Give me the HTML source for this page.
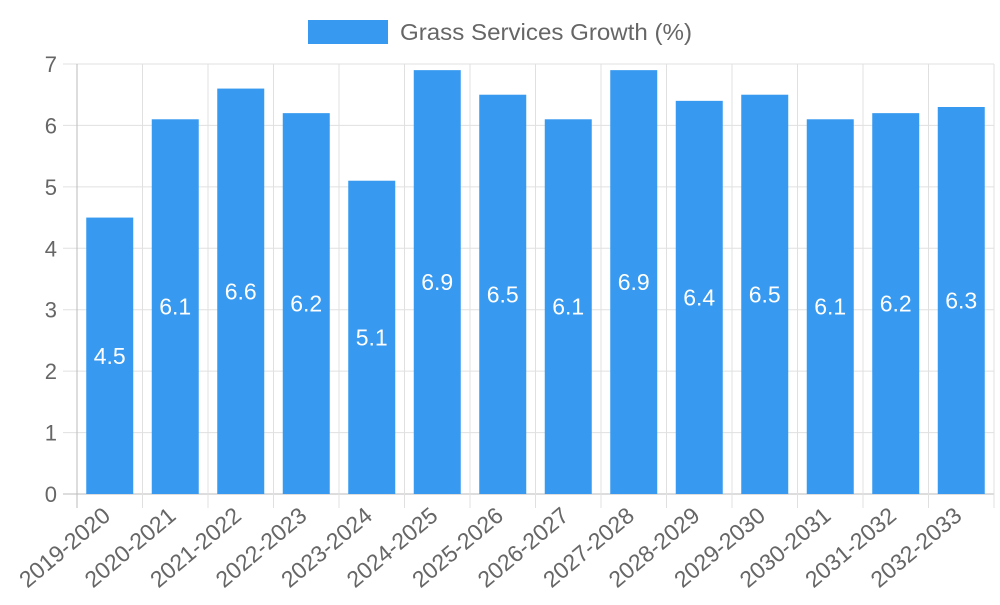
<!DOCTYPE html>
<html><head><meta charset="utf-8"><style>
body{margin:0;background:#fff;}
svg text{font-family:"Liberation Sans",sans-serif;}
</style></head><body>
<svg id="chart" width="1000" height="600">
<rect x="308" y="20" width="80" height="24" fill="#379af0"/>
<text x="400" y="40" font-size="23" textLength="292" lengthAdjust="spacingAndGlyphs" fill="#666">Grass Services Growth (%)</text>
<g id="grid"></g><g id="bars"></g><g id="labels"></g>
</svg>
<script>
const categories=["2019-2020","2020-2021","2021-2022","2022-2023","2023-2024","2024-2025","2025-2026","2026-2027","2027-2028","2028-2029","2029-2030","2030-2031","2031-2032","2032-2033"];
const values=[4.5,6.1,6.6,6.2,5.1,6.9,6.5,6.1,6.9,6.4,6.5,6.1,6.2,6.3];
const yTicks=[0,1,2,3,4,5,6,7];
const L=77,R=994,T=64,B=494,yMax=7;
const NS="http://www.w3.org/2000/svg";
const step=(R-L)/categories.length;
const y=v=>B-(v/yMax)*(B-T);
const x=i=>L+step*i;
function mk(tag,attrs,parent){const e=document.createElementNS(NS,tag);for(const k in attrs)e.setAttribute(k,attrs[k]);document.getElementById(parent).appendChild(e);return e;}
yTicks.forEach(t=>{
  const l=mk('line',{x1:L-14,x2:R,y1:y(t),y2:y(t),stroke:t===0?'#bbb':'#e0e0e0','stroke-width':1},'grid');
  
  
  const tx=mk('text',{x:L-20,y:y(t)+8,'text-anchor':'end','font-size':22,fill:'#666'},'grid');
  tx.textContent=t;
  
  
});
for(let i=0;i<=categories.length;i++){
  const l=mk('line',{x1:x(i),x2:x(i),y1:T,y2:B+14,stroke:i===0?'#bbb':'#e0e0e0','stroke-width':1},'grid');
  
  
}
const bw=47;
categories.forEach((c,i)=>{
  const cx=x(i)+step/2;
  const r=mk('rect',{x:cx-bw/2,y:y(values[i]),width:bw,height:B-y(values[i]),fill:'#379af0'},'bars');
  
  
  const v=mk('text',{x:cx,y:(y(values[i])+B)/2+8,'text-anchor':'middle','font-size':23,fill:'#fff'},'labels');
  v.textContent=values[i];
  
  
  const ax=cx+2, ay=B+24;
  const t=mk('text',{x:ax,y:ay,'text-anchor':'end','font-size':23,fill:'#666',transform:`rotate(-40 ${ax} ${ay})`},'labels');
  t.textContent=c;
  
  
});
</script>
</body></html>
